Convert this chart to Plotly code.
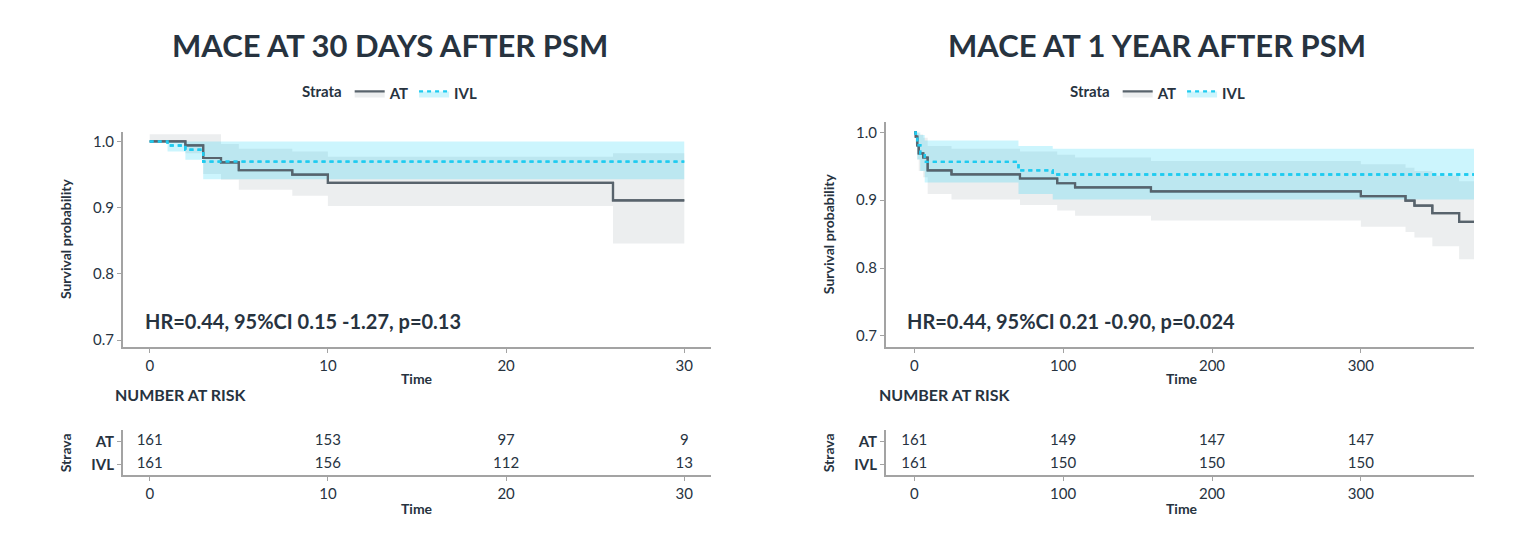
import plotly.graph_objects as go

# ---------------- data ----------------
# 30-day panel
at30_t = [0, 2, 3, 4, 5, 8, 10, 26, 30]
at30_s = [1.0, 0.994, 0.975, 0.9685, 0.9565, 0.950, 0.9375, 0.911, 0.911]
at30_lo = [1.0, 0.982, 0.951, 0.942, 0.927, 0.918, 0.9025, 0.846, 0.846]
at30_hi = [1.011, 1.011, 1.011, 0.996, 0.989, 0.985, 0.977, 0.982, 0.982]

ivl30_t = [0, 1, 2, 3, 30]
ivl30_s = [1.0, 0.994, 0.9875, 0.9695, 0.9695]
ivl30_lo = [1.0, 0.985, 0.9725, 0.943, 0.943]
ivl30_hi = [1.0, 1.0, 1.0, 1.0, 1.0]

# 1-year panel
at1y_t = [0, 1, 2, 3, 6, 9, 25, 71, 96, 108, 159, 300, 330, 336, 348, 366, 376]
at1y_s = [1.0, 0.9938, 0.981, 0.969, 0.963, 0.944, 0.938, 0.932, 0.925, 0.919,
          0.913, 0.906, 0.8995, 0.892, 0.881, 0.868, 0.868]
at1y_lo = [1.0, 0.982, 0.960, 0.943, 0.934, 0.909, 0.901, 0.893, 0.885, 0.877,
           0.870, 0.861, 0.853, 0.845, 0.832, 0.813, 0.813]
at1y_hi = [1.0, 1.0, 1.0, 0.997, 0.992, 0.980, 0.976, 0.972, 0.967, 0.963,
           0.958, 0.953, 0.948, 0.943, 0.936, 0.928, 0.928]

ivl1y_t = [0, 1, 2, 4, 7, 70, 93, 376]
ivl1y_s = [1.0, 0.9938, 0.981, 0.969, 0.9565, 0.944, 0.938, 0.938]
ivl1y_lo = [1.0, 0.982, 0.960, 0.943, 0.926, 0.909, 0.901, 0.901]
ivl1y_hi = [1.0, 1.0, 1.0, 0.996, 0.988, 0.980, 0.976, 0.976]

# number at risk
risk30_t = [0, 10, 20, 30]
risk30_at = [161, 153, 97, 9]
risk30_ivl = [161, 156, 112, 13]
risk1y_t = [0, 100, 200, 300]
risk1y_at = [161, 149, 147, 147]
risk1y_ivl = [161, 150, 150, 150]

titles = ["MACE AT 30 DAYS AFTER PSM", "MACE AT 1 YEAR AFTER PSM"]
hr_texts = ["HR=0.44, 95%CI 0.15 -1.27, p=0.13", "HR=0.44, 95%CI 0.21 -0.90, p=0.024"]
groups = ["AT", "IVL"]

# ---------------- style ----------------
W, H = 1536, 545
FONT = "Lato"
DARK = "#27333f"
AXIS = "#a3a3a3"
AT_LINE = "#58636c"
IVL_LINE = "#1fcbf0"
AT_FILL = "rgba(70,85,95,0.10)"
IVL_FILL = "rgba(0,205,245,0.20)"


def px(x):
    return x / W


def py(y):
    return 1 - y / H


fig = go.Figure()


def add_group(t, s, lo, hi, xa, ya, color, fill, dash, name, legend, width):
    common = dict(xaxis=xa, yaxis=ya, line_shape="hv", hoverinfo="skip")
    fig.add_trace(go.Scatter(x=t, y=hi, mode="lines", line=dict(width=0, color=color),
                             showlegend=False, **common))
    fig.add_trace(go.Scatter(x=t, y=s, mode="lines", fill="tonexty", fillcolor=fill,
                             line=dict(width=width, color=color, dash=dash),
                             name=f"<b>{name}</b>", legend=legend, showlegend=True, **common))
    fig.add_trace(go.Scatter(x=t, y=lo, mode="lines", fill="tonexty", fillcolor=fill,
                             line=dict(width=0, color=color), showlegend=False, **common))


panels = [
    dict(xa="x", ya="y", legend="legend",
         at=(at30_t, at30_s, at30_lo, at30_hi), ivl=(ivl30_t, ivl30_s, ivl30_lo, ivl30_hi)),
    dict(xa="x2", ya="y2", legend="legend2",
         at=(at1y_t, at1y_s, at1y_lo, at1y_hi), ivl=(ivl1y_t, ivl1y_s, ivl1y_lo, ivl1y_hi)),
]

for p in panels:
    add_group(*p["at"], p["xa"], p["ya"], AT_LINE, AT_FILL, "solid", groups[0], p["legend"], 2.2)
    add_group(*p["ivl"], p["xa"], p["ya"], IVL_LINE, IVL_FILL, "4px,4px", groups[1], p["legend"], 2.4)
    # redraw lines on top of the bands
    t, s = p["at"][0], p["at"][1]
    fig.add_trace(go.Scatter(x=t, y=s, xaxis=p["xa"], yaxis=p["ya"], mode="lines", line_shape="hv",
                             line=dict(width=2.2, color=AT_LINE), showlegend=False, hoverinfo="skip"))
    t, s = p["ivl"][0], p["ivl"][1]
    fig.add_trace(go.Scatter(x=t, y=s, xaxis=p["xa"], yaxis=p["ya"], mode="lines", line_shape="hv",
                             line=dict(width=2.4, color=IVL_LINE, dash="4px,4px"), showlegend=False,
                             hoverinfo="skip"))

# risk tables
for xa, ya, tt, a, b in [("x3", "y3", risk30_t, risk30_at, risk30_ivl),
                         ("x4", "y4", risk1y_t, risk1y_at, risk1y_ivl)]:
    fig.add_trace(go.Scatter(x=tt, y=[2] * len(tt), text=[str(v) for v in a], mode="text",
                             textfont=dict(family=FONT, size=15, color=DARK),
                             xaxis=xa, yaxis=ya, showlegend=False, hoverinfo="skip"))
    fig.add_trace(go.Scatter(x=tt, y=[1] * len(tt), text=[str(v) for v in b], mode="text",
                             textfont=dict(family=FONT, size=15, color=DARK),
                             xaxis=xa, yaxis=ya, showlegend=False, hoverinfo="skip"))

axis_common = dict(showline=True, linecolor=AXIS, linewidth=2, ticks="outside", ticklen=4,
                   tickcolor=AXIS, tickwidth=1, showgrid=False, zeroline=False,
                   tickfont=dict(family=FONT, size=15, color=DARK), fixedrange=True)

L_X = [px(123), px(711)]
R_X = [px(886), px(1474)]

legend_common = dict(orientation="h", xanchor="left", yanchor="middle", traceorder="normal",
                     valign="middle",
                     title=dict(text="<b>Strata</b>", side="left",
                                font=dict(family=FONT, size=15, color=DARK)),
                     font=dict(family=FONT, size=15, color=DARK), bgcolor="rgba(0,0,0,0)",
                     itemwidth=30, tracegroupgap=0)

fig.update_layout(
    width=W, height=H, autosize=False,
    margin=dict(l=0, r=0, t=0, b=0),
    paper_bgcolor="white", plot_bgcolor="white",
    font=dict(family=FONT, color=DARK),
    xaxis=dict(domain=L_X, range=[-1.5, 31.5], tickvals=[0, 10, 20, 30], anchor="y", **axis_common),
    yaxis=dict(domain=[py(348), py(132)], range=[0.69, 1.015], tickvals=[0.7, 0.8, 0.9, 1.0],
               tickformat=".1f", anchor="x", **axis_common),
    xaxis2=dict(domain=R_X, range=[-19, 376], tickvals=[0, 100, 200, 300], anchor="y2", **axis_common),
    yaxis2=dict(domain=[py(348), py(122)], range=[0.684, 1.016], tickvals=[0.7, 0.8, 0.9, 1.0],
                tickformat=".1f", anchor="x2", **axis_common),
    xaxis3=dict(domain=L_X, range=[-1.5, 31.5], tickvals=[0, 10, 20, 30], anchor="y3", **axis_common),
    yaxis3=dict(domain=[py(477), py(432)], range=[0.52, 2.48], tickvals=[1, 2],
                ticktext=["<b>IVL</b>", "<b>AT</b>"], anchor="x3", **axis_common),
    xaxis4=dict(domain=R_X, range=[-19, 376], tickvals=[0, 100, 200, 300], anchor="y4", **axis_common),
    yaxis4=dict(domain=[py(477), py(432)], range=[0.52, 2.48], tickvals=[1, 2],
                ticktext=["<b>IVL</b>", "<b>AT</b>"], anchor="x4", **axis_common),
    legend=dict(x=px(300), y=py(94), **legend_common),
    legend2=dict(x=px(1068), y=py(94), **legend_common),
)

ann = []


def A(text, x, y, size, xanchor="center", angle=0, bold=True):
    ann.append(dict(text=f"<b>{text}</b>" if bold else text, x=px(x), y=py(y), xref="paper",
                    yref="paper", showarrow=False, xanchor=xanchor, yanchor="middle",
                    textangle=angle, font=dict(family=FONT, size=size, color=DARK)))


A(titles[0], 390, 45, 31)
A(titles[1], 1157, 45, 31)
A(hr_texts[0], 143, 322, 20, xanchor="left")
A(hr_texts[1], 905, 322, 20, xanchor="left")
A("Survival probability", 65, 240, 14, angle=-90)
A("Survival probability", 828, 235, 14, angle=-90)
A("Time", 417, 380, 14)
A("Time", 1182, 380, 14)
A("NUMBER AT RISK", 113, 396, 16, xanchor="left")
A("NUMBER AT RISK", 877, 396, 16, xanchor="left")
A("Strava", 65, 455, 14, angle=-90)
A("Strava", 828, 455, 14, angle=-90)
A("Time", 417, 510, 14)
A("Time", 1182, 510, 14)
fig.update_layout(annotations=ann)

fig.write_html("out.html", config={"displayModeBar": False},
               post_script="document.body.style.margin='0';")
